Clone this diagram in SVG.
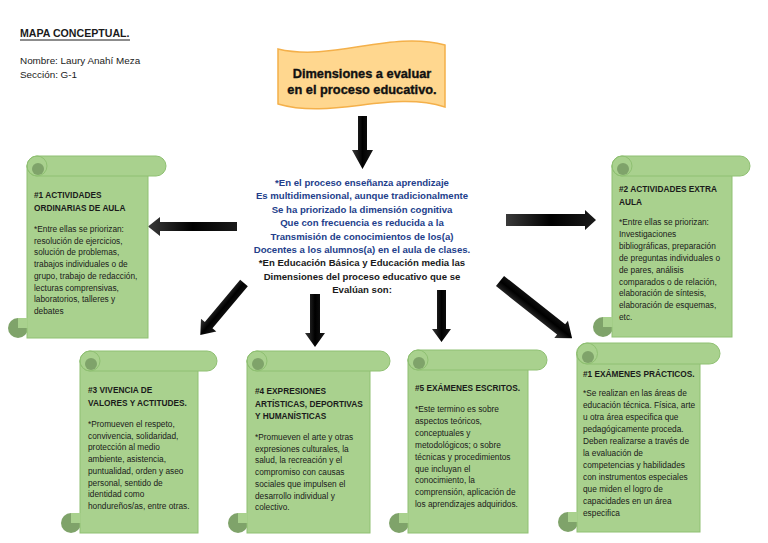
<svg xmlns="http://www.w3.org/2000/svg" width="768" height="543" viewBox="0 0 768 543">
<style>
text{font-family:"Liberation Sans",Arial,sans-serif;}
.hd{font-size:10.6px;font-weight:bold;fill:#1a1a1a;}
.hn{font-size:9.9px;fill:#1a1a1a;}
.bn{font-size:12.8px;font-weight:bold;fill:#111;stroke:#111;stroke-width:0.35;}
.cb{font-size:9.6px;font-weight:bold;fill:#233E8B;}
.ck{font-size:9.6px;font-weight:bold;fill:#1a1a1a;}
.t{font-size:8.3px;font-weight:bold;fill:#1a1a1a;}
.b{font-size:8.3px;fill:#1a1a1a;}
.sb{fill:#A9D18E;stroke:#8FC072;stroke-width:1;}
.sl{fill:#A9D18E;}
.sd{fill:#7FA36A;}
.so{fill:none;stroke:#8FC072;stroke-width:1;}
.ar{fill:url(#ag);}
</style>
<defs>
<linearGradient id="ag" x1="0" y1="0" x2="1" y2="0">
<stop offset="0" stop-color="#3a3a3a"/>
<stop offset="0.5" stop-color="#000"/>
<stop offset="1" stop-color="#1a1a1a"/>
</linearGradient>
</defs>
<rect width="768" height="543" fill="#fff"/>

<g id="header">
<text class="hd" x="20" y="37">MAPA CONCEPTUAL.</text>
<line x1="20" y1="40" x2="130" y2="40" stroke="#1a1a1a" stroke-width="1"/>
<text class="hn" x="20" y="64">Nombre: Laury Anahí Meza</text>
<text class="hn" x="20" y="78">Sección: G-1</text>
</g>

<g id="title">
<path d="M278,49 C333,62 390,30 445,45 L445,107 C390,90 333,120 278,104 Z" fill="#FFD78F" stroke="#F4B04A" stroke-width="1.5"/>
<text class="bn" x="362" y="78" text-anchor="middle">Dimensiones a evaluar</text>
<text class="bn" x="362" y="94" text-anchor="middle">en el proceso educativo.</text>
</g>

<g id="center" text-anchor="middle">
<text class="cb" x="362" y="185.5">*En el proceso enseñanza aprendizaje</text>
<text class="cb" x="362" y="199">Es multidimensional, aunque tradicionalmente</text>
<text class="cb" x="362" y="212.5">Se ha priorizado la dimensión cognitiva</text>
<text class="cb" x="362" y="225.5">Que con frecuencia es reducida a la</text>
<text class="cb" x="362" y="239.5">Transmisión de conocimientos de los(a)</text>
<text class="cb" x="362" y="252.5">Docentes a los alumnos(a) en el aula de clases.</text>
<text class="ck" x="362" y="266">*En Educación Básica y Educación media las</text>
<text class="ck" x="362" y="279.5">Dimensiones del proceso educativo que se</text>
<text class="ck" x="362" y="293">Evalúan son:</text>
</g>

<g id="connectors">
<polygon class="ar" points="358,116 367,116 367,150 373,150 362.5,169 352,150 358,150"/>
<polygon class="ar" points="237,222 160,222 160,217 148,226.5 160,236 160,231 237,231"/>
<polygon class="ar" points="506,214 585,214 585,210 596,220 585,230 585,226 506,226"/>
<polygon class="ar" transform="translate(244,283) rotate(40)" points="-5,0 5,0 5,55 10,55 0,68 -10,55 -5,55"/>
<polygon class="ar" points="310,294 320,294 320,333 325,333 315,347 305,333 310,333"/>
<polygon class="ar" points="437,290 446,290 446,329 451,329 441.5,342 432,329 437,329"/>
<polygon class="ar" transform="translate(500,281) rotate(-51.6)" points="-6.5,0 6.5,0 6.5,78 11,78 0,92 -11,78 -6.5,78"/>
</g>

<g id="node1">
<circle class="sd" cx="18" cy="328" r="10"/>
<rect class="sb" x="27" y="166" width="121" height="172"/>
<rect class="sl" x="18" y="318" width="9.5" height="10"/>
<rect class="sb" x="27" y="156" width="139" height="20" rx="10"/>
<circle class="so" cx="37" cy="166" r="10"/>
<circle class="sd" cx="38" cy="169" r="6"/>
<text class="t" x="34" y="198">#1 ACTIVIDADES</text>
<text class="t" x="34" y="211">ORDINARIAS DE AULA</text>
<text class="b" x="34" y="232">*Entre ellas se priorizan:</text>
<text class="b" x="34" y="243.7">resolución de ejercicios,</text>
<text class="b" x="34" y="255.4">solución de problemas,</text>
<text class="b" x="34" y="267.1">trabajos individuales o de</text>
<text class="b" x="34" y="278.8">grupo, trabajo de redacción,</text>
<text class="b" x="34" y="290.5">lecturas comprensivas,</text>
<text class="b" x="34" y="302.2">laboratorios, talleres y</text>
<text class="b" x="34" y="313.9">debates</text>
</g>

<g id="node2">
<circle class="sd" cx="603" cy="327" r="10"/>
<rect class="sb" x="612" y="166" width="120" height="171"/>
<rect class="sl" x="603" y="317" width="9.5" height="10"/>
<rect class="sb" x="612" y="156" width="138" height="20" rx="10"/>
<circle class="so" cx="622" cy="166" r="10"/>
<circle class="sd" cx="623" cy="169" r="6"/>
<text class="t" x="619" y="192">#2 ACTIVIDADES EXTRA</text>
<text class="t" x="619" y="205">AULA</text>
<text class="b" x="619" y="225">*Entre ellas se priorizan:</text>
<text class="b" x="619" y="236.9">Investigaciones</text>
<text class="b" x="619" y="248.8">bibliográficas, preparación</text>
<text class="b" x="619" y="260.7">de preguntas individuales o</text>
<text class="b" x="619" y="272.6">de pares, análisis</text>
<text class="b" x="619" y="284.5">comparados o de relación,</text>
<text class="b" x="619" y="296.4">elaboración de síntesis,</text>
<text class="b" x="619" y="308.3">elaboración de esquemas,</text>
<text class="b" x="619" y="320.2">etc.</text>
</g>

<g id="node3">
<circle class="sd" cx="71" cy="523" r="10"/>
<rect class="sb" x="80" y="361" width="118" height="172"/>
<rect class="sl" x="71" y="513" width="9.5" height="10"/>
<rect class="sb" x="80" y="351" width="137" height="20" rx="10"/>
<circle class="so" cx="90" cy="361" r="10"/>
<circle class="sd" cx="91" cy="364" r="6"/>
<text class="t" x="88" y="393">#3 VIVENCIA DE</text>
<text class="t" x="88" y="406">VALORES Y ACTITUDES.</text>
<text class="b" x="88" y="427">*Promueven el respeto,</text>
<text class="b" x="88" y="438.7">convivencia, solidaridad,</text>
<text class="b" x="88" y="450.4">protección al medio</text>
<text class="b" x="88" y="462.1">ambiente, asistencia,</text>
<text class="b" x="88" y="473.8">puntualidad, orden y aseo</text>
<text class="b" x="88" y="485.5">personal, sentido de</text>
<text class="b" x="88" y="497.2">identidad como</text>
<text class="b" x="88" y="508.9">hondureños/as, entre otras.</text>
</g>

<g id="node4">
<circle class="sd" cx="238" cy="523" r="10"/>
<rect class="sb" x="247" y="361" width="123" height="172"/>
<rect class="sl" x="238" y="513" width="9.5" height="10"/>
<rect class="sb" x="247" y="351" width="143" height="20" rx="10"/>
<circle class="so" cx="257" cy="361" r="10"/>
<circle class="sd" cx="258" cy="364" r="6"/>
<text class="t" x="255" y="394">#4 EXPRESIONES</text>
<text class="t" x="255" y="406.5">ARTÍSTICAS, DEPORTIVAS</text>
<text class="t" x="255" y="419">Y HUMANÍSTICAS</text>
<text class="b" x="255" y="440">*Promueven el arte y otras</text>
<text class="b" x="255" y="451.7">expresiones culturales, la</text>
<text class="b" x="255" y="463.4">salud, la recreación y el</text>
<text class="b" x="255" y="475.1">compromiso con causas</text>
<text class="b" x="255" y="486.8">sociales que impulsen el</text>
<text class="b" x="255" y="498.5">desarrollo individual y</text>
<text class="b" x="255" y="510.2">colectivo.</text>
</g>

<g id="node5">
<circle class="sd" cx="399" cy="523" r="10"/>
<rect class="sb" x="408" y="360" width="120" height="173"/>
<rect class="sl" x="399" y="513" width="9.5" height="10"/>
<rect class="sb" x="408" y="350" width="139" height="20" rx="10"/>
<circle class="so" cx="418" cy="360" r="10"/>
<circle class="sd" cx="419" cy="363" r="6"/>
<text class="t" x="415" y="391">#5 EXÁMENES ESCRITOS.</text>
<text class="b" x="415" y="412">*Este termino es sobre</text>
<text class="b" x="415" y="423.9">aspectos teóricos,</text>
<text class="b" x="415" y="435.8">conceptuales y</text>
<text class="b" x="415" y="447.7">metodológicos; o sobre</text>
<text class="b" x="415" y="459.6">técnicas y procedimientos</text>
<text class="b" x="415" y="471.5">que incluyan el</text>
<text class="b" x="415" y="483.4">conocimiento, la</text>
<text class="b" x="415" y="495.3">comprensión, aplicación de</text>
<text class="b" x="415" y="507.2">los aprendizajes adquiridos.</text>
</g>

<g id="node6">
<circle class="sd" cx="568" cy="522" r="10"/>
<rect class="sb" x="577" y="353" width="123" height="179"/>
<rect class="sl" x="568" y="512" width="9.5" height="10"/>
<rect class="sb" x="577" y="343" width="143" height="21" rx="10.5"/>
<circle class="so" cx="587" cy="353.5" r="10.5"/>
<circle class="sd" cx="588" cy="357" r="6"/>
<text class="t" x="583" y="377">#1 EXÁMENES PRÁCTICOS.</text>
<text class="b" x="583" y="396">*Se realizan en las áreas de</text>
<text class="b" x="583" y="408">educación técnica. Física, arte</text>
<text class="b" x="583" y="420">u otra área especifica que</text>
<text class="b" x="583" y="432">pedagógicamente proceda.</text>
<text class="b" x="583" y="444">Deben realizarse a través de</text>
<text class="b" x="583" y="456">la evaluación de</text>
<text class="b" x="583" y="468">competencias y habilidades</text>
<text class="b" x="583" y="480">con instrumentos especiales</text>
<text class="b" x="583" y="492">que miden el logro de</text>
<text class="b" x="583" y="504">capacidades en un área</text>
<text class="b" x="583" y="516">especifica</text>
</g>
</svg>
